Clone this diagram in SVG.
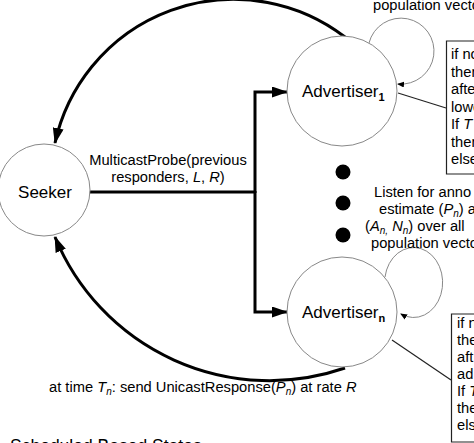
<svg xmlns="http://www.w3.org/2000/svg" width="474" height="443" viewBox="0 0 474 443">
<style>
text{font-family:"Liberation Sans",Arial,sans-serif;fill:#000}
.lbl{font-size:14.7px}
.node{font-size:17px}
.sub{font-size:11px;font-weight:bold}
.isub{font-size:10px;font-style:italic}
.it{font-style:italic}
.circ{fill:#fff;stroke:#888;stroke-width:1}
.loop{fill:none;stroke:#888;stroke-width:1}
.thick{fill:none;stroke:#000;stroke-width:3}
.thin{fill:none;stroke:#222;stroke-width:1.2}
</style>
<defs>
<marker id="ah" markerUnits="userSpaceOnUse" markerWidth="16" markerHeight="11" refX="15" refY="5.5" orient="auto">
<path d="M0,0 L16,5.5 L0,11 z" fill="#000"/>
</marker>
<marker id="sah" markerUnits="userSpaceOnUse" markerWidth="7" markerHeight="6" refX="6" refY="3" orient="auto">
<path d="M0,0 L7,3 L0,6 z" fill="#000"/>
</marker>
</defs>
<rect width="474" height="443" fill="#fff"/>

<g id="connectors">
<path class="thick" d="M345,37 A183,183 0 0 0 55,143" marker-end="url(#ah)"/>
<path class="thick" d="M345,368 A232,232 0 0 1 55,237" marker-end="url(#ah)"/>
<path class="thick" d="M88,192 H255"/>
<path class="thick" d="M255,193 V92 H287" marker-end="url(#ah)" stroke-linejoin="miter"/>
<path class="thick" d="M255,191 V312 H287" marker-end="url(#ah)" stroke-linejoin="miter"/>
<path class="loop" d="M369,43 A33,33 0 1 1 398,84" marker-end="url(#sah)"/>
<path class="loop" d="M385,277 A29,35 0 1 1 401,314" marker-end="url(#sah)"/>
<line class="thin" x1="398" y1="93" x2="446" y2="108"/>
<line class="thin" x1="392" y1="340" x2="451" y2="380"/>
</g>

<g id="labels">
<text class="lbl" x="168" y="165" text-anchor="middle">MulticastProbe(previous</text>
<text class="lbl" x="168" y="182" text-anchor="middle">responders, <tspan class="it">L</tspan>, <tspan class="it">R</tspan>)</text>
<text class="lbl" x="49" y="392">at time <tspan class="it">T</tspan><tspan class="isub" dy="3">n</tspan><tspan dy="-3">: send UnicastResponse(</tspan><tspan class="it">P</tspan><tspan class="isub" dy="3">n</tspan><tspan dy="-3">) at rate </tspan><tspan class="it">R</tspan></text>
<text x="10" y="452" style="font-size:17.5px">Scheduled Based States</text>
</g>

<g id="seeker">
<circle class="circ" cx="44" cy="190" r="46"/>
<text class="node" x="45" y="198" text-anchor="middle">Seeker</text>
</g>

<g id="advertiser1">
<circle class="circ" cx="342" cy="91" r="55"/>
<text class="node" x="302" y="97">Advertiser<tspan class="sub" dy="4">1</tspan></text>
</g>

<g id="advertisern">
<circle class="circ" cx="342" cy="312" r="55"/>
<text class="node" x="302" y="318">Advertiser<tspan class="sub" dy="4">n</tspan></text>
</g>

<g id="dots">
<circle cx="343" cy="172" r="7.5" fill="#000"/>
<circle cx="343" cy="203" r="7.5" fill="#000"/>
<circle cx="343" cy="235" r="7.5" fill="#000"/>
</g>

<g id="listen-top">
<text class="lbl" x="373" y="10">population vecto</text>
</g>

<g id="listen">
<text class="lbl" x="374" y="197">Listen for anno</text>
<text class="lbl" x="379" y="214">estimate (<tspan class="it">P</tspan><tspan class="isub" dy="3">n</tspan><tspan dy="-3">) a</tspan></text>
<text class="lbl" x="365" y="231">(<tspan class="it">A</tspan><tspan class="isub" dy="3">n,</tspan><tspan dy="-3"> </tspan><tspan class="it">N</tspan><tspan class="isub" dy="3">n</tspan><tspan dy="-3">) over all</tspan></text>
<text class="lbl" x="371" y="248">population vecto</text>
</g>

<g id="box1">
<path class="thin" d="M474,41 H446.5 V174 H474"/>
<text class="lbl" x="451" y="59">if no</text>
<text class="lbl" x="451" y="76.5">then</text>
<text class="lbl" x="451" y="94">after</text>
<text class="lbl" x="451" y="111.5">lowe</text>
<text class="lbl" x="451" y="129">If <tspan class="it">T</tspan></text>
<text class="lbl" x="451" y="146.5">then</text>
<text class="lbl" x="451" y="164">else</text>
</g>

<g id="box2">
<path class="thin" d="M474,314 H451.5 V442 H474"/>
<text class="lbl" x="457" y="328">if n</text>
<text class="lbl" x="457" y="345">the</text>
<text class="lbl" x="457" y="362">aft</text>
<text class="lbl" x="457" y="379">ad</text>
<text class="lbl" x="457" y="396">If <tspan class="it">T</tspan></text>
<text class="lbl" x="457" y="413">the</text>
<text class="lbl" x="457" y="430">els</text>
</g>
</svg>
